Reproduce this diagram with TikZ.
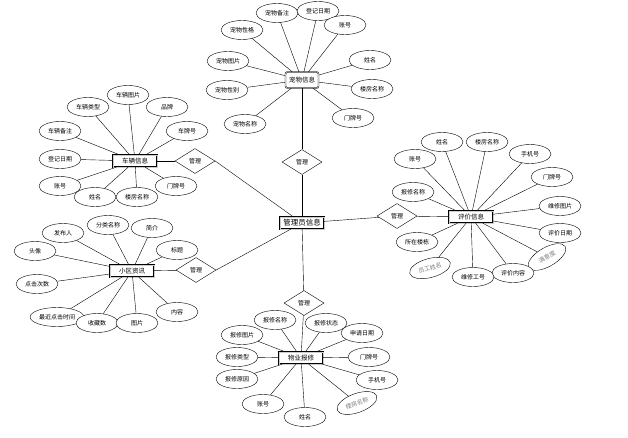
\documentclass[tikz,border=0pt]{standalone}
\usepackage{fontspec}
\newfontfamily\cjk{Noto Sans CJK SC}
\usetikzlibrary{shapes.geometric}
\tikzset{
  attr/.style={draw, ellipse, fill=white, font=\cjk\fontsize{6}{7}\selectfont,
               minimum width=42pt, minimum height=19pt, inner sep=1pt},
  gattr/.style={attr, text=gray},
  entity/.style={draw, double=gray!40, double distance=0.6pt, fill=white,
                 font=\cjk\fontsize{6.5}{7}\selectfont, minimum width=44pt,
                 minimum height=12pt, inner sep=1pt},
  rel/.style={draw, diamond, fill=white, font=\cjk\fontsize{6}{7}\selectfont,
              minimum width=40pt, minimum height=25pt, inner sep=0pt},
  link/.style={thin},
}
\begin{document}
\begin{tikzpicture}[x=1pt,y=-1pt]
\useasboundingbox (0,0) rectangle (628,437);
% centre
\node[entity, font=\cjk\fontsize{7.5}{8}\selectfont] (admin) at (302,223) {管理员信息};
\node[rel] (rtop) at (302,162) {管理};
\node[rel] (rcar) at (195,161) {管理};
\node[rel] (rnews) at (196,270) {管理};
\node[rel] (rrate) at (397,216) {管理};
\node[rel] (rfix) at (304,303) {管理};
% pet
\node[entity, rounded corners=2pt, minimum width=33pt, minimum height=16pt] (pet) at (302,80) {宠物信息};
\node[attr] (pet1) at (277,13) {宠物备注};
\node[attr] (pet2) at (318,11) {登记日期};
\node[attr] (pet3) at (345,25) {账号};
\node[attr] (pet4) at (242,30) {宠物性格};
\node[attr] (pet5) at (228,61) {宠物图片};
\node[attr] (pet6) at (370,60) {姓名};
\node[attr] (pet7) at (227,90) {宠物性别};
\node[attr] (pet8) at (372,89) {楼房名称};
\node[attr] (pet9) at (245,124) {宠物名称};
\node[attr] (pet10) at (353,118) {门牌号};
% car
\node[entity] (car) at (135,161) {车辆信息};
\node[attr] (car1) at (88,107) {车辆类型};
\node[attr] (car2) at (128,95) {车辆图片};
\node[attr] (car3) at (167,107) {品牌};
\node[attr] (car4) at (187,131) {车牌号};
\node[attr] (car5) at (60,131) {车辆备注};
\node[attr] (car6) at (60,159) {登记日期};
\node[attr] (car7) at (60,186) {账号};
\node[attr] (car8) at (95,197) {姓名};
\node[attr] (car9) at (137,197) {楼房名称};
\node[attr] (car10) at (176,186) {门牌号};
% news
\node[entity] (news) at (132,271) {小区资讯};
\node[attr] (news1) at (63,233) {发布人};
\node[attr] (news2) at (108,225) {分类名称};
\node[attr] (news3) at (152,228) {简介};
\node[attr] (news4) at (177,250) {标题};
\node[attr] (news5) at (35,251) {头像};
\node[attr] (news6) at (37,284) {点击次数};
\node[attr, minimum width=50pt] (news7) at (57,317) {最近点击时间};
\node[attr] (news8) at (97,323) {收藏数};
\node[attr] (news9) at (137,323) {图片};
\node[attr] (news10) at (177,312) {内容};
% repair
\node[entity] (fix) at (301,358) {物业报修};
\node[attr] (fix1) at (275,320) {报修名称};
\node[attr] (fix2) at (326,323) {报修状态};
\node[attr] (fix3) at (362,333) {申请日期};
\node[attr] (fix4) at (242,335) {报修图片};
\node[attr] (fix5) at (237,357) {报修类型};
\node[attr] (fix6) at (369,357) {门牌号};
\node[attr] (fix7) at (237,379) {报修原因};
\node[attr] (fix8) at (377,380) {手机号};
\node[attr] (fix9) at (263,404) {账号};
\node[attr] (fix10) at (305,417) {姓名};
\node[gattr, rotate=20] (fix11) at (357,403) {楼房名称};
% rating
\node[entity] (rate) at (471,217) {评价信息};
\node[attr] (rate1) at (415,159) {账号};
\node[attr] (rate2) at (442,142) {姓名};
\node[attr] (rate3) at (487,142) {楼房名称};
\node[attr] (rate4) at (530,154) {手机号};
\node[attr] (rate5) at (552,177) {门牌号};
\node[attr] (rate6) at (560,206) {维修图片};
\node[attr] (rate7) at (560,233) {评价日期};
\node[gattr, rotate=30] (rate8) at (547,257) {满意度};
\node[attr] (rate9) at (513,273) {评价内容};
\node[attr] (rate10) at (473,277) {维修工号};
\node[gattr, rotate=15] (rate11) at (430,268) {员工姓名};
\node[attr] (rate12) at (417,242) {所在楼栋};
\node[attr] (rate13) at (413,192) {报修名称};
% links
\draw[link] (admin)--(rtop);\draw[link] (rtop)--(pet);
\draw[link] (admin)--(rcar.east);\draw[link] (rcar)--(car);
\draw[link] (admin)--(rnews.east);\draw[link] (rnews)--(news);
\draw[link] (admin)--(rrate);\draw[link] (rrate)--(rate);
\draw[link] (admin)--(rfix);\draw[link] (rfix)--(fix);
\draw[link] (pet1)--(pet);\draw[link] (pet2)--(pet);\draw[link] (pet3)--(pet);\draw[link] (pet4)--(pet);\draw[link] (pet5)--(pet);
\draw[link] (pet6)--(pet);\draw[link] (pet7)--(pet);\draw[link] (pet8)--(pet);\draw[link] (pet9)--(pet);\draw[link] (pet10)--(pet);
\draw[link] (car1)--(car);\draw[link] (car2)--(car);\draw[link] (car3)--(car);\draw[link] (car4)--(car);\draw[link] (car5)--(car);
\draw[link] (car6)--(car);\draw[link] (car7)--(car);\draw[link] (car8)--(car);\draw[link] (car9)--(car);\draw[link] (car10)--(car);
\draw[link] (news1)--(news);\draw[link] (news2)--(news);\draw[link] (news3)--(news);\draw[link] (news4)--(news);\draw[link] (news5)--(news);
\draw[link] (news6)--(news);\draw[link] (news7)--(news);\draw[link] (news8)--(news);\draw[link] (news9)--(news);\draw[link] (news10)--(news);
\draw[link] (fix1)--(fix);\draw[link] (fix2)--(fix);\draw[link] (fix3)--(fix);\draw[link] (fix4)--(fix);\draw[link] (fix5)--(fix);\draw[link] (fix6)--(fix);
\draw[link] (fix7)--(fix);\draw[link] (fix8)--(fix);\draw[link] (fix9)--(fix);\draw[link] (fix10)--(fix);\draw[link] (fix11)--(fix);
\draw[link] (rate1)--(rate);\draw[link] (rate2)--(rate);\draw[link] (rate3)--(rate);\draw[link] (rate4)--(rate);\draw[link] (rate5)--(rate);
\draw[link] (rate6)--(rate);\draw[link] (rate7)--(rate);\draw[link] (rate8)--(rate);\draw[link] (rate9)--(rate);\draw[link] (rate10)--(rate);
\draw[link] (rate11)--(rate);\draw[link] (rate12)--(rate);\draw[link] (rate13)--(rate);
\end{tikzpicture}
\end{document}
